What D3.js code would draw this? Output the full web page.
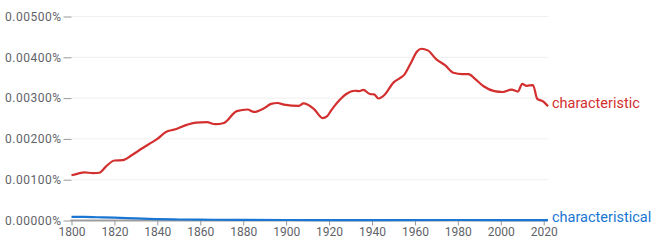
<!DOCTYPE html>
<html>
<head>
<meta charset="utf-8">
<script src="https://cdn.jsdelivr.net/npm/d3@7"></script>
<style>
  html, body { margin: 0; padding: 0; background: #fff; }
  svg { display: block; font-family: Roboto, "Noto Sans", sans-serif; }
</style>
</head>
<body>
<div id="chart"></div>
<script>
// values, in percent
const redYears = [1800, 1803, 1806, 1810, 1813, 1816, 1820, 1824, 1828, 1833, 1836, 1840, 1844, 1848, 1854, 1858, 1863, 1867, 1871, 1877, 1882, 1885, 1890, 1893, 1896, 1899, 1906, 1908, 1913, 1917, 1919, 1921, 1925, 1928, 1932, 1934, 1936, 1939, 1941, 1943, 1946, 1950, 1953, 1955, 1958, 1961, 1963, 1966, 1970, 1974, 1978, 1982, 1985, 1988, 1992, 1997, 2001, 2005, 2008, 2010, 2012, 2015, 2017, 2020, 2022];
const redValues = [0.00111, 0.00115, 0.00118, 0.00116, 0.00117, 0.00132, 0.00147, 0.00148, 0.00160, 0.00177, 0.00187, 0.00200, 0.00217, 0.00223, 0.00235, 0.00240, 0.00241, 0.00236, 0.00239, 0.00268, 0.00272, 0.00266, 0.00276, 0.00286, 0.00288, 0.00284, 0.00281, 0.00287, 0.00273, 0.00251, 0.00255, 0.00270, 0.00296, 0.00310, 0.00318, 0.00317, 0.00320, 0.00310, 0.00309, 0.00299, 0.00309, 0.00338, 0.00349, 0.00357, 0.00385, 0.00414, 0.00421, 0.00417, 0.00395, 0.00381, 0.00362, 0.00359, 0.00359, 0.00347, 0.00329, 0.00317, 0.00315, 0.00321, 0.00316, 0.00335, 0.00330, 0.00332, 0.00298, 0.00291, 0.00280];

const blueYears = [1800, 1806, 1812, 1820, 1830, 1840, 1850, 1860, 1880, 1900, 1940, 1980, 2022];
const blueValues = [0.00009, 0.00009, 0.00008, 0.00007, 0.00005, 0.000035, 0.000025, 0.00002, 0.000015, 0.000012, 0.00001, 0.000012, 0.00001];

const seriesNames = ["characteristic", "characteristical"];
const yTicks = [0, 0.001, 0.002, 0.003, 0.004, 0.005];
const xTicks = [1800, 1820, 1840, 1860, 1880, 1900, 1920, 1940, 1960, 1980, 2000, 2020];

const width = 658, height = 244;
const margin = { top: 16.5, right: 110, bottom: 23.5, left: 71.5 };
const innerWidth = width - margin.left - margin.right;
const innerHeight = height - margin.top - margin.bottom;
const red = "#d32f2f", blue = "#1976d2";

const svg = d3.select("#chart").append("svg")
  .attr("width", width)
  .attr("height", height);

const g = svg.append("g")
  .attr("transform", `translate(${margin.left},${margin.top})`);

const x = d3.scaleLinear().domain([1800, 2022]).range([0, innerWidth]);
const y = d3.scaleLinear().domain([0, 0.005]).range([innerHeight, 0]);

// gridlines
g.selectAll(".grid")
  .data(yTicks.filter(d => d > 0))
  .enter().append("line")
  .attr("x1", 0).attr("x2", innerWidth)
  .attr("y1", d => y(d)).attr("y2", d => y(d))
  .attr("stroke", "#efefef");

// y axis ticks + labels
const yAxis = d3.axisLeft(y).tickValues(yTicks).tickSize(8).tickPadding(2)
  .tickFormat(d => d3.format(".5f")(d) + "%");
const yg = g.append("g").call(yAxis);
yg.select(".domain").remove();
yg.selectAll(".tick line").attr("stroke", "#999");
yg.selectAll("text")
  .attr("fill", "#5f6368")
  .style("font-size", "12px")
  .style("letter-spacing", "0.5px")
  .style("font-family", "Roboto, sans-serif");

// baseline
g.append("line")
  .attr("x1", -1).attr("x2", innerWidth)
  .attr("y1", y(0)).attr("y2", y(0))
  .attr("stroke", "#9e9e9e")
  .attr("stroke-width", 2);

// x axis
const xAxis = d3.axisBottom(x).tickValues(xTicks).tickSize(5).tickPadding(2)
  .tickFormat(d => d);
const xg = g.append("g").attr("transform", `translate(0,${innerHeight})`).call(xAxis);
xg.select(".domain").remove();
xg.selectAll(".tick line").attr("stroke", "#999");
xg.selectAll("text")
  .attr("fill", "#5f6368")
  .style("font-size", "12px")
  .style("font-family", "Roboto, sans-serif");

const line = d3.line()
  .x(d => x(d[0]))
  .y(d => y(d[1]))
  .curve(d3.curveMonotoneX);

const redData = redYears.map((yr, i) => [yr, redValues[i]]);
const blueData = blueYears.map((yr, i) => [yr, blueValues[i]]);

g.append("path").datum(blueData)
  .attr("fill", "none").attr("stroke", blue).attr("stroke-width", 2.2)
  .attr("d", line);

g.append("path").datum(redData)
  .attr("fill", "none").attr("stroke", red).attr("stroke-width", 2.2)
  .attr("d", line);

// series labels at the line ends
const ends = [
  { name: seriesNames[0], color: red, v: redValues[redValues.length - 1] },
  { name: seriesNames[1], color: blue, v: blueValues[blueValues.length - 1] }
];
g.selectAll(".series-label")
  .data(ends)
  .enter().append("text")
  .attr("x", innerWidth + 4)
  .attr("y", d => y(d.v))
  .attr("dy", "0.12em")
  .attr("fill", d => d.color)
  .style("font-size", "14.5px")
  .text(d => d.name);
</script>
</body>
</html>
